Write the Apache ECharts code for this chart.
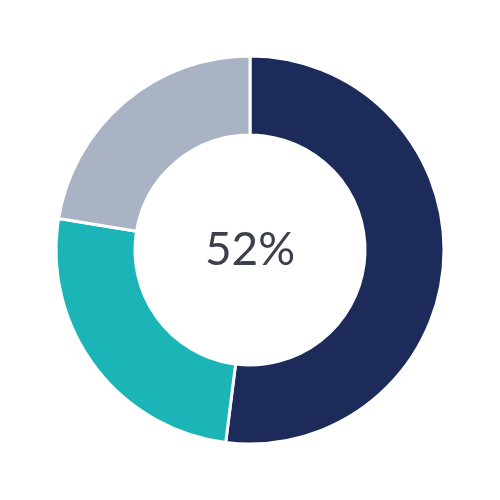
<!DOCTYPE html>
<html>
<head>
<meta charset="utf-8">
<script src="https://cdn.jsdelivr.net/npm/echarts@6/dist/echarts.min.js"></script>
<style>html,body{margin:0;padding:0;background:#fff}#c{width:500px;height:500px}</style>
</head>
<body>
<div id="c"></div>
<script>
const categories = ['Navy', 'Teal', 'Gray'];
const values = [52, 25.6, 22.4];
const colors = ['#1c2b5a', '#1bb5b8', '#a9b3c3'];
const centerLabel = '52%';

const chart = echarts.init(document.getElementById('c'), null, {renderer: 'canvas'});
chart.setOption({
  animation: false,
  color: colors,
  graphic: [{
    type: 'text', left: 'center', top: 'middle',
    style: {text: centerLabel, font: '400 46px Lato', fill: '#3b404b', textAlign: 'center', textVerticalAlign: 'middle'},
    x: 250, y: 248
  }],
  series: [{
    type: 'pie',
    center: [250, 250],
    radius: [115, 194],
    startAngle: 90,
    clockwise: true,
    label: {show: false},
    labelLine: {show: false},
    emphasis: {disabled: true},
    itemStyle: {borderColor: '#fff', borderWidth: 3},
    data: categories.map((c, i) => ({name: c, value: values[i]}))
  }]
});
</script>
</body>
</html>
